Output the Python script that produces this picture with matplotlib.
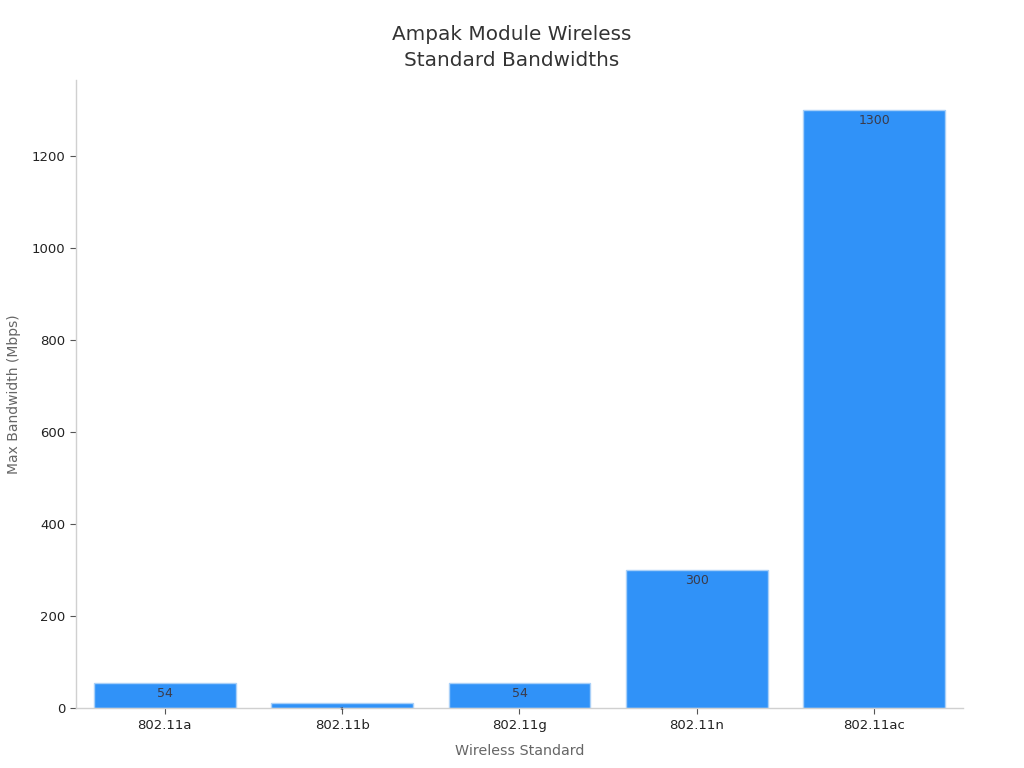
import matplotlib
matplotlib.use("Agg")
import matplotlib.pyplot as plt

standards = ["802.11a", "802.11b", "802.11g", "802.11n", "802.11ac"]
bandwidth = [54, 11, 54, 300, 1300]
label_sizes = [9, 3, 9, 9, 9]

plt.rcParams['font.family'] = ['DejaVu Sans']

fig = plt.figure(figsize=(10.24, 7.68), dpi=100)
ax = fig.add_axes([0.0742, 0.078, 0.8662, 0.8178])

x = list(range(len(standards)))
bars = ax.bar(x, bandwidth, width=0.8, color="#3092f8", edgecolor="#a9d0f8", linewidth=1)

for xi, v, fs in zip(x, bandwidth, label_sizes):
    ax.annotate(str(v), (xi, v), xytext=(0, -3), textcoords="offset points",
                ha="center", va="top", fontsize=fs, color="#3b3b4a")

ax.set_xlim(-0.5, 4.5)
ax.set_ylim(0, 1365)
ax.set_xticks(x)
ax.set_xticklabels(standards)
ax.set_yticks([0, 200, 400, 600, 800, 1000, 1200])
ax.tick_params(axis="both", labelsize=9.5, colors="#222222", length=4, color="#555555")

for s in ["top", "right"]:
    ax.spines[s].set_visible(False)
for s in ["left", "bottom"]:
    ax.spines[s].set_color("#d0d0d0")
    ax.spines[s].set_linewidth(1)

ax.set_xlabel("Wireless Standard", fontsize=10.3, color="#666666", labelpad=9)
ax.set_ylabel("Max Bandwidth (Mbps)", fontsize=10, color="#666666", labelpad=8)
fig.text(0.5, 0.938, "Ampak Module Wireless\nStandard Bandwidths", fontsize=14.4,
         color="#333333", ha="center", va="center", linespacing=1.5)

fig.savefig("out.png", dpi=100)
